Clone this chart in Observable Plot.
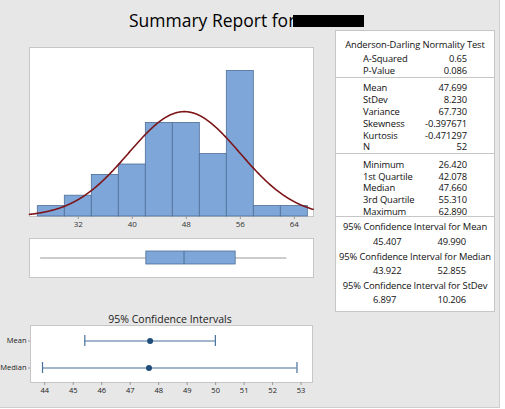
<!DOCTYPE html>
<html>
<head>
<meta charset="utf-8">
<script src="https://cdn.jsdelivr.net/npm/d3@7"></script>
<script src="https://cdn.jsdelivr.net/npm/@observablehq/plot@0.6"></script>
<style>
  html, body { margin: 0; padding: 0; background: #ffffff; }
  #report {
    position: relative; width: 505px; height: 409px; overflow: hidden;
    font-family: "Open Sans", "Noto Sans", sans-serif; color: #141414;
  }
  #sheet {
    position: absolute; left: 0; top: 0; width: 499px; height: 407px;
    background: #e7e7e7; border-right: 1px solid #cfcfcf; border-bottom: 1px solid #cfcfcf;
  }
  .abs { position: absolute; white-space: nowrap; line-height: 1; }
  .panel svg { display: block; overflow: visible; }
  #table {
    position: absolute; left: 335px; top: 30px; width: 160px; height: 282px;
    background: #ffffff; border: 1px solid #c6c6c6; box-sizing: border-box;
  }
  .sep { position: absolute; left: 0; width: 100%; height: 0; border-top: 1px solid #c6c6c6; }
</style>
</head>
<body>
<div id="report"><div id="sheet"></div></div>
<script>
// Histogram: bin starts (width 4) and counts
const binStarts = [26, 30, 34, 38, 42, 46, 50, 54, 58, 62];
const binCounts = [1, 2, 4, 5, 9, 9, 6, 14, 1, 1];
const binWidth = 4;
const histTicks = [32, 40, 48, 56, 64];

// Anderson-Darling test
const adLabels = ["A-Squared", "P-Value"];
const adValues = ["0.65", "0.086"];

// Descriptive statistics
const descLabels = ["Mean", "StDev", "Variance", "Skewness", "Kurtosis", "N"];
const descValues = [47.699, 8.230, 67.730, -0.397671, -0.471297, 52];
const descText = ["47.699", "8.230", "67.730", "-0.397671", "-0.471297", "52"];

// Five-number summary
const quantLabels = ["Minimum", "1st Quartile", "Median", "3rd Quartile", "Maximum"];
const quantValues = [26.420, 42.078, 47.660, 55.310, 62.890];

// 95% confidence intervals
const ciTitles = ["95% Confidence Interval for Mean", "95% Confidence Interval for Median", "95% Confidence Interval for StDev"];
const ciLows = [45.407, 43.922, 6.897];
const ciHighs = [49.990, 52.855, 10.206];
const ciRows = ["Mean", "Median"];
const ciCenters = [47.699, 47.660];
const ciTicks = [44, 45, 46, 47, 48, 49, 50, 51, 52, 53];

const report = document.getElementById("report");
const fmt3 = d3.format(".3f");

function place(parent, x, y, text, anchor, size, extra) {
  const el = document.createElement("div");
  el.className = "abs";
  el.textContent = text;
  el.style.left = x + "px";
  el.style.top = y + "px";
  el.style.fontSize = size + "px";
  const tx = anchor === "end" ? "-100%" : anchor === "middle" ? "-50%" : "0";
  el.style.transform = `translate(${tx}, -50%)`;
  if (extra) Object.assign(el.style, extra);
  parent.appendChild(el);
  return el;
}

// Title with its redaction bar
place(report, 129, 21, "Summary Report for", "start", 17.5, {color: "#000"});
const bar = document.createElement("div");
bar.className = "abs";
Object.assign(bar.style, {left: "293px", top: "15px", width: "71px", height: "12px", background: "#000"});
report.appendChild(bar);

// Shared x scale for histogram and box plot
const xDomain = [24.77, 66.84];
const mean = descValues[0], sd = descValues[1], n = descValues[5];
const barFill = "#7ea6d9", barStroke = "#4e6e96";

const bins = binStarts.map((s, i) => ({x1: s, x2: s + binWidth, count: binCounts[i]}));
// Fitted normal density, scaled to counts per bin
const curve = d3.range(xDomain[0], xDomain[1] + 0.01, 0.1).map(x => ({
  x, y: n * binWidth * Math.exp(-0.5 * ((x - mean) / sd) ** 2) / (sd * Math.sqrt(2 * Math.PI))
}));

const hist = Plot.plot({
  width: 284, height: 190,
  marginLeft: 0, marginRight: 0, marginTop: 0, marginBottom: 21,
  style: {fontFamily: "Open Sans, sans-serif", fontSize: "8px", color: "#333", background: "transparent"},
  x: {domain: xDomain},
  y: {domain: [0, 16.25], axis: null},
  marks: [
    Plot.frame({fill: "#ffffff", stroke: "#c6c6c6"}),
    Plot.rect(bins, {x1: "x1", x2: "x2", y1: 0, y2: "count", fill: barFill, stroke: barStroke, strokeWidth: 0.8}),
    Plot.line(curve, {x: "x", y: "y", stroke: "#7d1518", strokeWidth: 1.6}),
    Plot.axisX({ticks: histTicks, tickSize: 3, tickPadding: 2, stroke: "#999", label: null, tickFormat: d => d})
  ]
});
const histWrap = document.createElement("div");
histWrap.className = "abs panel";
Object.assign(histWrap.style, {left: "29px", top: "47px"});
histWrap.appendChild(hist);
report.appendChild(histWrap);

// Box plot from the five-number summary
const [qMin, q1, qMed, q3, qMax] = quantValues;
const box = [{row: "box", min: qMin, q1, med: qMed, q3, max: qMax}];
const boxPlot = Plot.plot({
  width: 284, height: 39,
  marginLeft: 0, marginRight: 0, marginTop: 0, marginBottom: 0,
  style: {background: "transparent"},
  x: {domain: xDomain, axis: null},
  y: {domain: ["box"], padding: 0.5, axis: null},
  marks: [
    Plot.frame({fill: "#ffffff", stroke: "#c6c6c6"}),
    Plot.ruleY(box, {y: "row", x1: "min", x2: "max", stroke: "#9a9a9a", strokeWidth: 1.2}),
    Plot.barX(box, {y: "row", x1: "q1", x2: "q3", fill: barFill, stroke: barStroke, strokeWidth: 0.8}),
    Plot.tickX(box, {y: "row", x: "med", stroke: barStroke, strokeWidth: 1})
  ]
});
const boxWrap = document.createElement("div");
boxWrap.className = "abs panel";
Object.assign(boxWrap.style, {left: "29px", top: "238px"});
boxWrap.appendChild(boxPlot);
report.appendChild(boxWrap);

// Confidence interval panel
place(report, 170, 319, "95% Confidence Intervals", "middle", 10.5, {color: "#1a1a1a"});
const ci = ciRows.map((row, i) => ({row, lo: ciLows[i], hi: ciHighs[i], c: ciCenters[i]}));
const ciColor = "#47709a";
const ciPlot = Plot.plot({
  width: 316, height: 75,
  marginLeft: 30, marginRight: 4, marginTop: 0, marginBottom: 18,
  style: {fontFamily: "Open Sans, sans-serif", fontSize: "7.5px", color: "#222", background: "transparent"},
  x: {domain: [43.5, 53.4]},
  y: {domain: ciRows, paddingInner: 0.6, paddingOuter: 0.32},
  marks: [
    Plot.frame({fill: "#ffffff", stroke: "#c6c6c6"}),
    Plot.ruleY(ci, {y: "row", x1: "lo", x2: "hi", stroke: ciColor, strokeWidth: 1.2}),
    Plot.tickX(ci, {y: "row", x: "lo", stroke: ciColor, strokeWidth: 1.2}),
    Plot.tickX(ci, {y: "row", x: "hi", stroke: ciColor, strokeWidth: 1.2}),
    Plot.dot(ci, {y: "row", x: "c", r: 3, fill: "#1f4c78", stroke: "none"}),
    Plot.axisX({ticks: ciTicks, tickSize: 3, tickPadding: 2, stroke: "#999", label: null, tickFormat: d => d}),
    Plot.axisY({tickSize: 2, tickPadding: 2, stroke: "#999", label: null, fontSize: "7.5px"})
  ]
});
const ciWrap = document.createElement("div");
ciWrap.className = "abs panel";
Object.assign(ciWrap.style, {left: "0px", top: "325px"});
ciWrap.appendChild(ciPlot);
report.appendChild(ciWrap);

// Statistics table (child positions are relative to its inner padding box)
const table = document.createElement("div");
table.id = "table";
report.appendChild(table);
const T = {x0: 336, y0: 31};
const fs = 9.4;
const textStyle = {letterSpacing: "-0.12px", color: "#111"};
const labelX = 363 - T.x0, valueX = 467 - T.x0, midX = 415 - T.x0;
function tText(x, y, text, anchor) { return place(table, x, y - T.y0, text, anchor, fs, textStyle); }
function sep(y) {
  const s = document.createElement("div");
  s.className = "sep";
  s.style.top = (y - T.y0) + "px";
  table.appendChild(s);
}

tText(midX, 45, "Anderson-Darling Normality Test", "middle");
adLabels.forEach((l, i) => {
  tText(labelX, 59 + i * 11.5, l, "start");
  tText(valueX, 59 + i * 11.5, adValues[i], "end");
});
sep(77);
descLabels.forEach((l, i) => {
  tText(labelX, 88.3 + i * 11.8, l, "start");
  tText(valueX, 88.3 + i * 11.8, descText[i], "end");
});
sep(153);
quantLabels.forEach((l, i) => {
  tText(labelX, 165 + i * 11.7, l, "start");
  tText(valueX, 165 + i * 11.7, fmt3(quantValues[i]), "end");
});
sep(216);
ciTitles.forEach((t, i) => {
  const y = 227.3 + i * 29.3;
  tText(midX, y, t, "middle");
  tText(373 - T.x0, y + 14.5, fmt3(ciLows[i]), "start");
  tText(466 - T.x0, y + 14.5, fmt3(ciHighs[i]), "end");
});
</script>
</body>
</html>
